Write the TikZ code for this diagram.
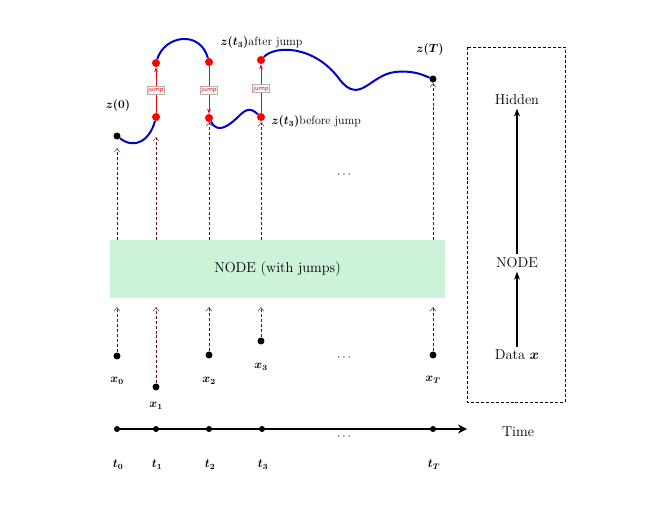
\documentclass[tikz,border=0pt]{standalone}
\usepackage{amsmath,bm}
\usetikzlibrary{arrows.meta}
\begin{document}
\begin{tikzpicture}[x=1bp,y=-1bp,
 dot/.style={circle,fill=black,inner sep=0pt,minimum size=7pt},
 rdot/.style={circle,fill=red,inner sep=0pt,minimum size=8pt},
 dsharrow/.style={densely dashed,draw={rgb,255:red,90;green,20;blue,20},thin,-{Straight Barb[length=4pt,width=6pt]}},
 jlab/.style={draw=black!30,fill=white,font=\sffamily\scriptsize,inner sep=1pt},
 jmp/.style={red,thick,-{Stealth[length=5pt]}},
 curve/.style={blue!80!black,line width=2pt},
 lbl/.style={font=\large}]
\useasboundingbox (0,0) rectangle (664,507);
% time axis
\coordinate (ts) at (117,429);
\coordinate (te) at (467,429);
\draw[line width=1.8pt,-{Stealth[length=9pt,width=9pt]}] (ts) -- (te);
\foreach \n/\x/\l in {t0/117/t_0,t1/156/t_1,t2/209/t_2,t3/262/t_3,tT/433/t_T}{
  \node[dot,minimum size=6pt] (\n) at (\x,429) {};
  \node[lbl] at (\x+1,465) {$\bm{\l}$};}
\node[lbl] at (345,437) {$\cdots$};
\node[font=\Large] at (518,432) {Time};
% NODE box
\node[fill=green!50!teal!20,minimum width=335bp,minimum height=58bp,font=\Large] (box) at (277.5,269) {NODE (with jumps)};
% x points
\foreach \n/\x/\y/\l/\ly in {x0/117/356/x_0/381,x1/156/387/x_1/406,x2/209/355/x_2/381,x3/261/341/x_3/367,xT/433/355/x_T/380}{
  \node[dot] (\n) at (\x,\y) {};
  \node[lbl] at (\x,\ly) {$\bm{\l}$};
  \coordinate (\n a) at (\x,307);
  \draw[dsharrow] (\n) -- (\n a);}
\node[lbl] at (345,358) {$\cdots$};
\node[lbl] at (345,175) {$\cdots$};
% z points
\node[dot] (z0) at (117,136) {};
\node[rdot] (b1) at (156,117) {};
\node[rdot] (a1) at (156,63) {};
\node[rdot] (a2) at (209,62) {};
\node[rdot] (b2) at (209,118) {};
\node[rdot] (b3) at (261,117) {};
\node[rdot] (a3) at (261,60) {};
\node[dot] (zT) at (433,79) {};
\foreach \x/\y in {117/148,156/137,209/122,261/122,433/83}{
  \coordinate (u\x) at (\x,\y);
  \draw[dsharrow] (\x,240) -- (u\x);}
% curves
\draw[curve] (z0) .. controls (135,150) and (150,140) .. (b1);
\draw[curve] (a1) .. controls (165,35) and (200,30) .. (a2);
\draw[curve] (b2) .. controls (218,135) and (230,125) .. (240,115) .. controls (250,105) and (255,112) .. (b3);
\draw[curve] (a3) .. controls (275,45) and (315,45) .. (340,80) .. controls (360,105) and (370,75) .. (395,72) .. controls (415,70) and (425,76) .. (zT);
% jumps
\draw[jmp] (b1) -- node[jlab]{jump} (a1);
\draw[jmp] (a2) -- node[jlab]{jump} (b2);
\draw[jmp] (b3) -- node[jlab]{jump} (a3);
% labels
\node[lbl] at (118,106) {$\bm{z(0)}$};
\node[lbl] at (430,50) {$\bm{z(T)}$};
\node[lbl,anchor=west] at (217,43) {$\bm{z(t_3)}$after jump};
\node[lbl,anchor=west] at (268,122) {$\bm{z(t_3)}$before jump};
% right box
\draw[densely dashed] (467,47) rectangle (565,402);
\node[font=\Large] (hid) at (517,100) {Hidden};
\node[font=\Large] (nd) at (517,263) {NODE};
\node[font=\Large] (dx) at (517,355) {Data $\bm{x}$};
\draw[line width=1.2pt,-{Stealth[length=8pt]}] (dx) -- (nd);
\draw[line width=1.2pt,-{Stealth[length=8pt]}] (nd) -- (hid);
\end{tikzpicture}
\end{document}
